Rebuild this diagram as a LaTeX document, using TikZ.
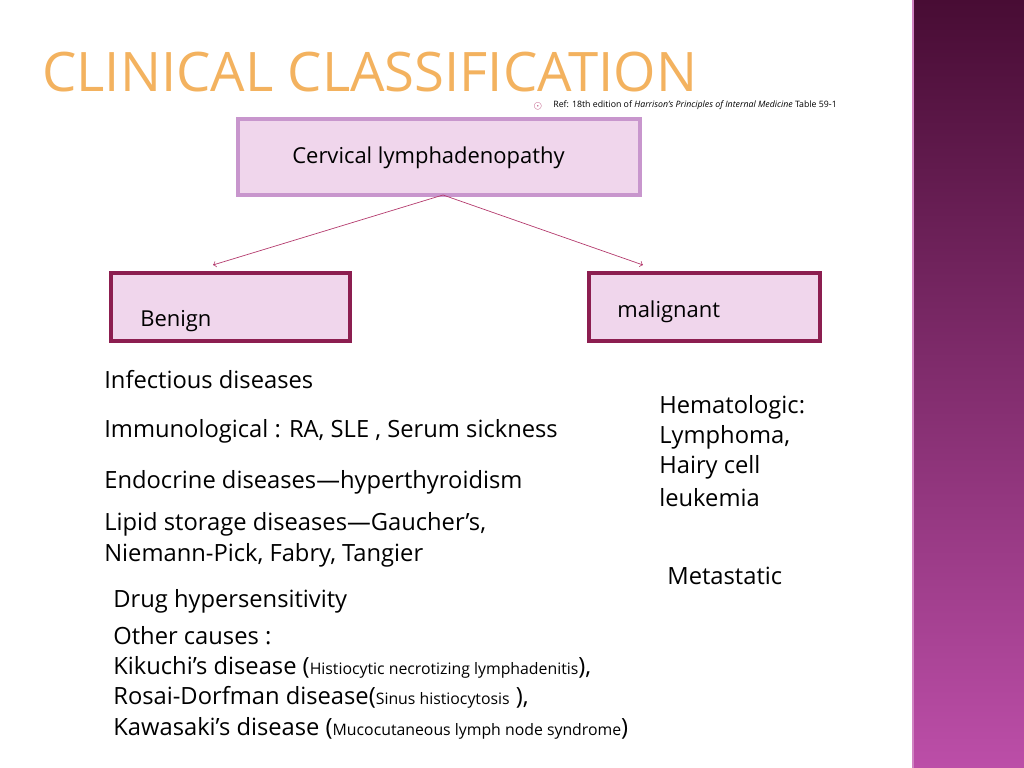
\documentclass[tikz,border=0pt]{standalone}
\usepackage{fontspec}
\setmainfont{Open Sans}
\usetikzlibrary{positioning}
\definecolor{boxfill}{RGB}{240,214,236}
\definecolor{topline}{RGB}{200,150,205}
\definecolor{subline}{RGB}{140,30,80}
\definecolor{arrowcol}{RGB}{180,60,110}
\definecolor{titlecol}{RGB}{243,178,95}
\definecolor{bandtop}{RGB}{72,12,52}
\definecolor{bandbot}{RGB}{188,78,168}
\newcommand{\smalltext}{\fontsize{9}{11}\selectfont}
\tikzset{
  classbox/.style = {draw, fill=boxfill, inner sep=0pt},
  itemtext/.style = {anchor=west, inner sep=0pt, font=\fontsize{13.5}{16}\selectfont}
}

\begin{document}
\begin{tikzpicture}[x=0.2mm, y=-0.2mm]
\useasboundingbox (0, 0) rectangle (1024, 768);

% side band
\shade[top color=bandtop, bottom color=bandbot] (912, 0) rectangle (1024, 768);
\draw[bandbot!70!white, line width=1pt] (913, 0) -- (913, 768);

% title
\node[anchor=west, inner sep=0pt, text=titlecol, font=\fontsize{31}{34}\selectfont]
	(title) at (42, 72) {CLINICAL CLASSIFICATION};
\node[anchor=west, inner sep=0pt, font=\fontsize{5}{6}\selectfont]
	(ref) at (553, 105) {Ref: 18th edition of \textit{Harrison's Principles of Internal Medicine} Table 59-1};
\node[anchor=center, inner sep=0pt, text=arrowcol, font=\fontsize{5}{6}\selectfont] (dot) at (538, 106) {$\odot$};

% boxes
\draw[classbox, draw=topline, line width=2.2pt] (238, 119) rectangle (640, 195);
\draw[classbox, draw=subline, line width=1.8pt] (111, 273) rectangle (350, 341);
\draw[classbox, draw=subline, line width=1.8pt] (589, 273) rectangle (820, 341);
\node[itemtext, font=\fontsize{12.5}{15}\selectfont] (cervical) at (292, 158) {Cervical lymphadenopathy};
\node[itemtext, font=\fontsize{12.5}{15}\selectfont] (benign) at (140, 321) {Benign};
\node[itemtext, font=\fontsize{12.5}{15}\selectfont] (malignant) at (617, 312) {malignant};

% connectors
\coordinate (fork) at (443, 195);
\coordinate (lefttip) at (213, 265);
\coordinate (righttip) at (643, 265);
\draw[arrowcol, ->] (fork) -- (lefttip);
\draw[arrowcol, ->] (fork) -- (righttip);

% benign causes
\node[itemtext] (infect) at (104, 380) {Infectious diseases};
\node[itemtext] (immuno) at (104, 431) {Immunological : RA, SLE , Serum sickness};
\node[itemtext] (endo) at (104, 482) {Endocrine diseases---hyperthyroidism};
\node[itemtext] (lipid) at (104, 524) {Lipid storage diseases---Gaucher's,};
\node[itemtext] (lipidb) at (104, 555) {Niemann-Pick, Fabry, Tangier};
\node[itemtext] (drug) at (113, 601) {Drug hypersensitivity};
\node[itemtext] (other) at (113, 636) {Other causes :};
\node[itemtext] (kikuchi) at (113, 667) {Kikuchi's disease ({\smalltext Histiocytic necrotizing lymphadenitis}),};
\node[itemtext] (rosai) at (113, 697) {Rosai-Dorfman disease({\smalltext Sinus histiocytosis} ),};
\node[itemtext] (kawasaki) at (113, 728) {Kawasaki's disease ({\smalltext Mucocutaneous lymph node syndrome})};

% malignant causes
\node[itemtext] (hema) at (659, 407) {Hematologic:};
\node[itemtext] (lymph) at (659, 437) {Lymphoma,};
\node[itemtext] (hairy) at (659, 467) {Hairy cell};
\node[itemtext] (leuk) at (659, 498) {leukemia};
\node[itemtext] (meta) at (667, 576) {Metastatic};
\end{tikzpicture}
\end{document}
